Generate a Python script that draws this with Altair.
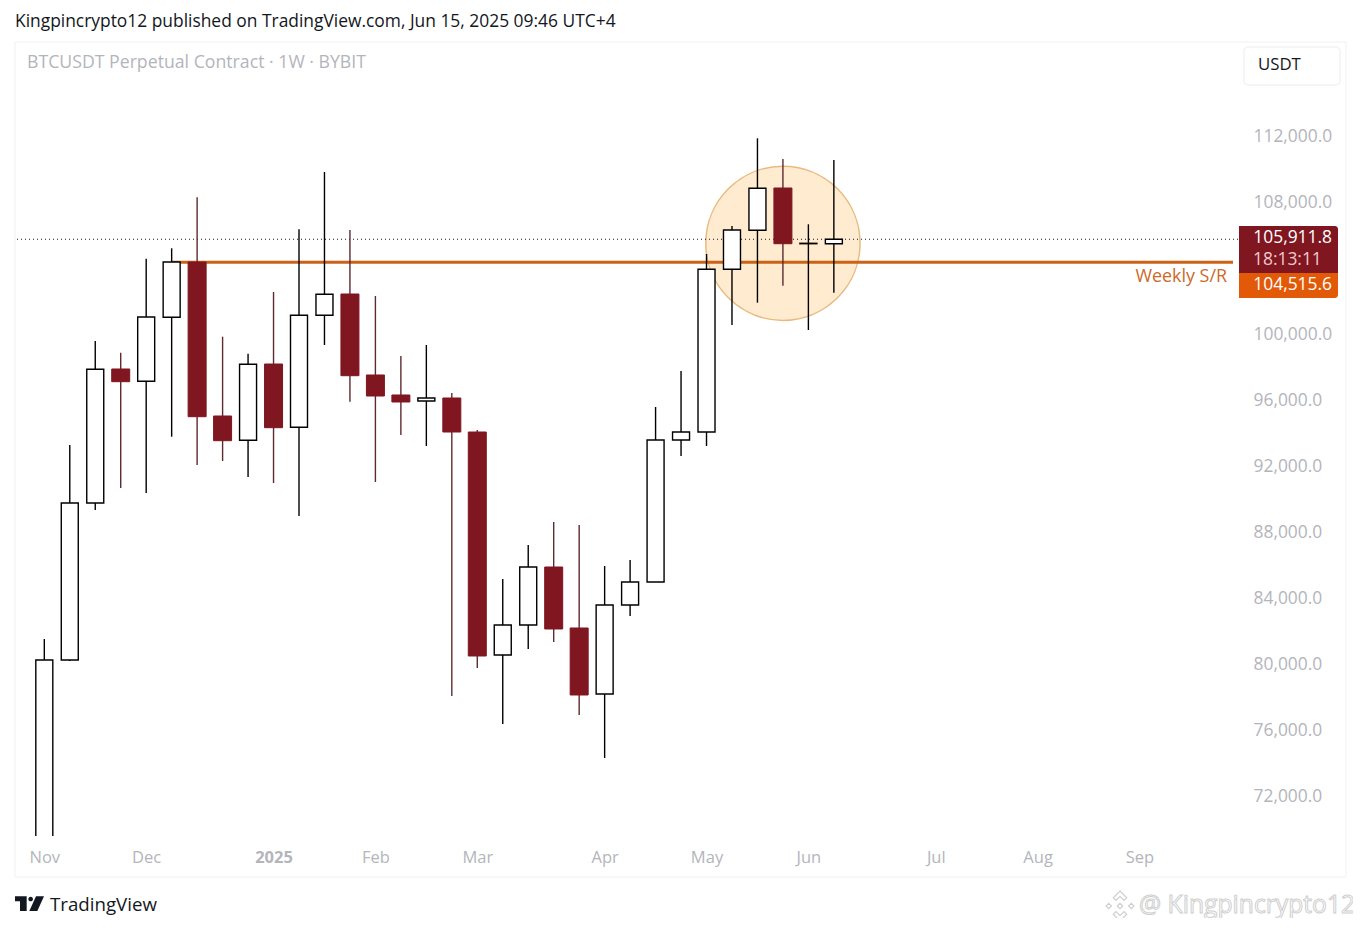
import altair as alt
import pandas as pd

FONT = "Open Sans"

dates = pd.date_range("2024-11-04", periods=32, freq="7D").strftime("%Y-%m-%d").tolist()
opens = [68800, 80412, 89927, 98049, 97303, 101182, 104533, 95200, 93727, 98351, 94515, 101303, 102594, 97685, 96473, 96109,
         96291, 94230, 80715, 82533, 86048, 82352, 78352, 83746, 85139, 93745, 94230, 104091, 106455, 109018, 105642, 105642]
closes = [80412, 89927, 98030, 97279, 101200, 104533, 95158, 93703, 98333, 94491, 101303, 102576, 97642, 96412, 96049, 96291,
          94230, 80655, 82533, 86048, 82291, 78291, 83746, 85139, 93745, 94230, 104091, 106473, 109000, 105642, 105667, 105909]
highs = [81685, 93442, 99745, 99036, 104733, 105364, 108455, 100006, 98976, 102715, 106515, 109988, 106473, 102473, 98836, 99503,
         96594, 94352, 85321, 87382, 88776, 88594, 86109, 86473, 95745, 97927, 105018, 106715, 112030, 110776, 106818, 110715]
lows = [66800, 80350, 89503, 90836, 90533, 93945, 92230, 92473, 91503, 91139, 89139, 99503, 96067, 91200, 94048, 93382,
        78230, 79927, 76533, 81079, 81503, 77079, 74473, 83079, 85139, 92776, 93382, 100715, 102067, 103097, 100412, 102673]

y_ticks = list(range(72000, 112001, 4000))
month_ticks = ["2024-11-04", "2024-12-02", "2025-01-06", "2025-02-03", "2025-03-03", "2025-04-07",
               "2025-05-05", "2025-06-02", "2025-07-07", "2025-08-04", "2025-09-01"]
last_price = 105911.8
sr_price = 104515.6
sr_start = "2024-12-09"
x_start = "2024-10-28T07:40:00"
x_end = "2025-09-26T16:48:00"
y_domain = [69745, 117867]
circle_date = "2025-05-26"
circle_price = 105667


def ms(s):
    return int(pd.Timestamp(s).value // 10**6)


df = pd.DataFrame({"date": dates, "open": opens, "close": closes, "high": highs, "low": lows})
df["top"] = df[["open", "close"]].max(axis=1)
df["bot"] = df[["open", "close"]].min(axis=1)
df["up"] = df["close"] >= df["open"]
up = df[df["up"]]
down = df[~df["up"]]

GREY = "#b3b5bc"
x_scale = alt.Scale(type="utc", domain=[ms(x_start), ms(x_end)])
y_scale = alt.Scale(domain=y_domain, nice=False, zero=False)
x_enc = alt.X(
    "date:T", scale=x_scale, title=None,
    axis=alt.Axis(
        values=[ms(m) for m in month_ticks], grid=False, domain=False, ticks=False,
        labelExpr="utcmonth(datum.value)==0 ? '2025' : utcFormat(datum.value,'%b')",
        labelFontWeight=alt.expr("utcmonth(datum.value)==0 ? 'bold' : 'normal'"),
        labelColor=GREY, labelFont=FONT, labelFontSize=16.5, labelPadding=13, labelOverlap=False,
    ),
)
y_enc = alt.Y(
    "top:Q", scale=y_scale, title=None,
    axis=alt.Axis(
        orient="right", values=y_ticks, format=",.1f", grid=False, domain=False, ticks=False,
        labelColor=GREY, labelFont=FONT, labelFontSize=17.4, labelPadding=15, labelOffset=-2.3,
    ),
)
one = pd.DataFrame({"a": [0]})


def label(text, x, y, size, color, align="left", weight="normal", **kw):
    return alt.Chart(pd.DataFrame({"t": [text]})).mark_text(
        align=align, baseline="middle", fontSize=size, font=FONT, color=color, fontWeight=weight, **kw
    ).encode(x=alt.value(x - 15), y=alt.value(y - 42), text="t:N")


def box(x0, x1, y0, y1, fill, stroke=None, **kw):
    opts = dict(fill=fill, **kw)
    if stroke:
        opts["stroke"] = stroke
    return alt.Chart(one).mark_rect(**opts).encode(
        x=alt.value(x0 - 15), x2=alt.value(x1 - 15), y=alt.value(y0 - 42), y2=alt.value(y1 - 42)
    )


circle = alt.Chart(pd.DataFrame({"date": [circle_date], "top": [circle_price]})).mark_point(
    shape="circle", filled=True, fill="#ffebcf", fillOpacity=1, stroke="#e8ba80", strokeWidth=1.5, size=23800
).encode(x=x_enc, y=y_enc)

last_rule = alt.Chart(pd.DataFrame({"p": [last_price]})).mark_rule(
    color="#131722", strokeDash=[1, 3], strokeWidth=1
).encode(y=alt.Y("p:Q", scale=y_scale, title=None))

sr_rule = alt.Chart(pd.DataFrame({"date": [sr_start], "end": [x_end], "p": [sr_price]})).mark_rule(
    color="#cc6216", strokeWidth=3
).encode(x=alt.X("date:T", scale=x_scale, title=None), x2="end:T", y=alt.Y("p:Q", scale=y_scale, title=None))


def wicks(data, color):
    return alt.Chart(data).mark_rule(color=color, strokeWidth=1.4, clip=True).encode(
        x=alt.X("date:T", scale=x_scale, title=None),
        y=alt.Y("low:Q", scale=y_scale, title=None), y2="high:Q",
    )


def bodies(data, fill, stroke, size, sw):
    return alt.Chart(data).mark_bar(
        size=size, fill=fill, stroke=stroke, strokeWidth=sw, clip=True, orient="vertical"
    ).encode(
        x=alt.X("date:T", scale=x_scale, title=None),
        y=alt.Y("bot:Q", scale=y_scale, title=None), y2="top:Q",
    )


TV_PATH = ("M-1,-0.494 L-0.195,-0.494 L-0.195,0.517 L-0.655,0.517 L-0.655,-0.149 L-1,-0.149 Z "
           "M0.448,-0.494 L1,-0.494 L0.54,0.517 L-0.011,0.517 Z "
           "M-0.08,-0.31 A0.16,0.16 0 1 1 0.24,-0.31 A0.16,0.16 0 1 1 -0.08,-0.31 Z")
logo = alt.Chart(one).mark_point(
    shape=TV_PATH, filled=True, fill="#131722", fillOpacity=1, size=841, strokeWidth=0
).encode(x=alt.value(14.5), y=alt.value(861.5))

BN_PATH = ("M0,-1 L0.45,-0.55 L0.27,-0.37 L0,-0.64 L-0.27,-0.37 L-0.45,-0.55 Z "
           "M0,1 L0.45,0.55 L0.27,0.37 L0,0.64 L-0.27,0.37 L-0.45,0.55 Z "
           "M-0.75,-0.18 L-0.57,0 L-0.75,0.18 L-0.93,0 Z "
           "M0.75,-0.18 L0.57,0 L0.75,0.18 L0.93,0 Z "
           "M0,-0.18 L0.18,0 L0,0.18 L-0.18,0 Z")
diamond = alt.Chart(one).mark_point(
    shape=BN_PATH, filled=True, fill="#ffffff", fillOpacity=1, stroke="#cfcfcf", strokeWidth=1.2, size=900
).encode(x=alt.value(1120 - 15), y=alt.value(906 - 42))

layers = [
    box(15, 1346, 42, 877, "transparent", "#f0f1f3"),
    circle,
    last_rule,
    sr_rule,
    wicks(up, "#000000"),
    wicks(down, "#5e2a31"),
    bodies(up, "#ffffff", "#000000", 17, 1.4),
    bodies(down, "#7f1620", "#7f1620", 18, 1),
    box(1244, 1340, 47, 85, "#ffffff", "#ececec", cornerRadius=4),
    label("USDT", 1258, 65, 16.8, "#131722"),
    label("Kingpincrypto12 published on TradingView.com, Jun 15, 2025 09:46 UTC+4", 15, 22, 17.4, "#131722"),
    label("BTCUSDT Perpetual Contract · 1W · BYBIT", 27, 63, 17.7, GREY),
    label("Weekly S/R", 1227, 277, 17.9, "#cc6a2a", align="right"),
    box(1239, 1338, 226, 273, "#7f1620", cornerRadiusTopRight=3),
    box(1239, 1338, 273, 298, "#e25a08", cornerRadiusBottomRight=3),
    label("105,911.8", 1332, 238, 17.4, "#ffffff", align="right"),
    label("18:13:11", 1253, 260, 17.4, "#f3c9cc"),
    label("104,515.6", 1332, 285, 17.4, "#ffffff", align="right"),
    logo,
    label("TradingView", 50, 905, 18.7, "#131722"),
    diamond,
    label("@ Kingpincrypto12", 1139, 906, 24.7, "#ffffff", stroke="#cfcfcf", strokeWidth=1),
]
chart = alt.layer(*layers).properties(
    width=1223, height=794,
    padding={"left": 7, "top": 34, "right": 115, "bottom": 82},
    autosize=alt.AutoSizeParams(type="none"),
).configure_view(stroke=None)

chart.save("out.html", embed_options={"renderer": "svg", "actions": False})
